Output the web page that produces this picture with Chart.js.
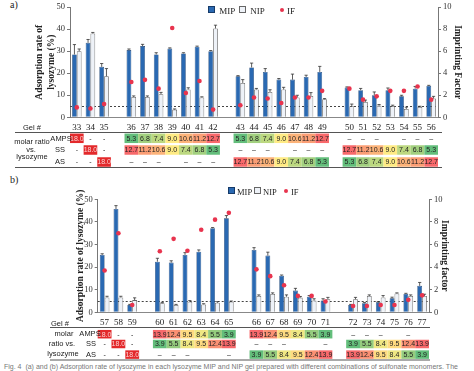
<!DOCTYPE html>
<html>
<head>
<meta charset="utf-8">
<script src="https://cdn.jsdelivr.net/npm/chart.js@4"></script>
<style>
  body { margin: 0; background: #fff; width: 474px; height: 371px; overflow: hidden; position: relative; font-family: "Liberation Serif", serif; }
  .wrap { position: absolute; left: 0; width: 474px; }
  .lbl { position: absolute; font-size: 10px; color: #222; }
  .leg { position: absolute; font-size: 9px; color: #222; white-space: nowrap; line-height: 10px; }
  .sq { display: inline-block; width: 5px; height: 5px; margin-right: 2px; vertical-align: 1px; }
  .mip { background: #2a69b2; border: 1px solid #163a68; }
  .nip { background: #eef2f8; border: 1px solid #666; }
  .dot { display: inline-block; width: 4px; height: 4px; border-radius: 50%; background: #e8344e; margin-right: 3px; vertical-align: 2px; }
  #cap { position: absolute; left: 4px; top: 363px; font: 7px "Liberation Sans", sans-serif; color: #777; white-space: nowrap; }
</style>
</head>
<body>
<div class="lbl" style="left:10px;top:-1px">a)</div>
<div class="wrap" style="top:0;height:172px"><canvas id="chartA" width="474" height="172"></canvas></div>
<div class="leg" style="left:208px;top:6px"><span class="sq mip"></span>&nbsp;MIP</div>
<div class="leg" style="left:239px;top:6px"><span class="sq nip"></span>&nbsp;NIP</div>
<div class="leg" style="left:280px;top:6px"><span class="dot"></span>IF</div>

<div class="lbl" style="left:10px;top:174px">b)</div>
<div class="wrap" style="top:172px;height:190px"><canvas id="chartB" width="474" height="190"></canvas></div>
<div class="leg" style="left:228px;top:187px;font-size:8.5px"><span class="sq mip"></span>MIP</div>
<div class="leg" style="left:254px;top:187px;font-size:8.5px"><span class="sq nip"></span>NIP</div>
<div class="leg" style="left:284px;top:187px;font-size:8.5px"><span class="dot"></span>IF</div>

<div id="cap">Fig. 4&nbsp;&nbsp;(a) and (b) Adsorption rate of lysozyme in each lysozyme MIP and NIP gel prepared with different combinations of sulfonate monomers. The</div>

<script>
// ---- panel a data ----
const GEL_A = ['33','34','35','','36','37','38','39','40','41','42','','43','44','45','46','47','48','49','','50','51','52','53','54','55','56'];
const MIP_A = [28.5,33.8,22.9,null,30.5,32.3,28.5,31.2,29.0,32.0,30.0,null,18.6,22.6,20.6,17.1,17.1,18.3,20.6,null,13.5,12.3,10.0,12.3,9.5,13.0,14.2];
const NIP_A = [30.0,38.0,18.6,null,9.2,9.2,10.5,3.5,12.6,9.0,40.3,null,15.6,12.6,11.5,12.6,9.0,9.7,8.2,null,5.0,7.0,5.3,5.0,3.8,4.7,8.5];
const IF_A  = [0.9,0.8,1.2,null,3.2,3.4,2.6,8.1,2.2,3.3,0.7,null,1.1,1.8,1.7,1.3,1.8,1.8,2.4,null,2.6,1.6,1.9,2.4,2.4,2.8,1.6];
const MIP_ERR_A = [4.5,1.5,1.5,null,0.5,0.8,0.8,0.3,0.3,0.3,0.3,null,0.3,2.0,1.5,0.5,2.5,0.8,2.5,null,0.3,0.8,1.5,1.0,0.5,1.0,0.3];
const NIP_ERR_A = [1.0,0.5,3.5,null,0.5,0.5,0.8,0.3,0.8,0.3,1.5,null,1.5,0.5,1.0,1.0,1.0,1.5,0.3,null,1.0,0.8,0.5,0.5,0.8,0.3,1.0];
const AMPS_A = ['18.0','-','-',null,'5.3','6.8','7.4','9.0','10.6','11.2','12.7',null,'5.3','6.8','7.4','9.0','10.6','11.2','12.7',null,'–','–','–','','–','–','–'];
const SS_A   = ['-','18.0','-',null,'12.7','11.2','10.6','9.0','7.4','6.8','5.3',null,'–','–','–','','–','–','–',null,'12.7','11.2','10.6','9.0','7.4','6.8','5.3'];
const AS_A   = ['-','-','18.0',null,'–','–','–','','–','–','–',null,'12.7','11.2','10.6','9.0','7.4','6.8','5.3',null,'5.3','6.8','7.4','9.0','10.6','11.2','12.7'];

// ---- panel b data ----
const GEL_B = ['57','58','59','','60','61','62','63','64','65','','66','67','68','69','70','71','','72','73','74','75','76','77'];
const MIP_B = [25.4,45.7,3.2,null,22.4,22.0,25.4,26.8,37.2,41.6,null,27.6,25.1,16.2,9.6,6.9,5.2,null,3.2,4.0,4.4,6.2,8.1,11.7];
const NIP_B = [6.6,6.6,5.4,null,4.0,3.2,4.7,3.5,4.2,4.7,null,7.2,8.1,6.9,6.5,5.2,5.8,null,5.8,7.2,6.6,8.3,7.2,7.2];
const IF_B  = [3.7,7.0,0.65,null,5.4,6.5,5.45,7.3,8.2,8.8,null,3.8,3.2,2.4,1.45,1.45,0.95,null,0.56,0.56,0.65,0.65,1.1,1.5];
const MIP_ERR_B = [0.5,1.5,0.3,null,1.5,0.8,1.0,0.8,0.3,1.2,null,1.0,1.5,0.3,1.0,0.5,0.8,null,0.3,0.3,0.3,0.5,0.3,1.5];
const NIP_ERR_B = [0.5,0.5,1.0,null,0.3,0.3,0.5,0.3,0.5,0.3,null,0.5,0.5,0.8,0.5,0.8,0.8,null,0.8,0.5,0.8,0.3,0.5,0.8];
const AMPS_B = ['18.0','-','-',null,'13.9','12.4','9.5','8.4','5.5','3.9',null,'13.9','12.4','9.5','8.4','5.5','3.9',null,'–','–','–','','–',''];
const SS_B   = ['-','18.0','-',null,'3.9','5.5','8.4','9.5','12.4','13.9',null,'–','–','–','','','–',null,'3.9','5.5','8.4','9.5','12.4','13.9'];
const AS_B   = ['-','-','18.0',null,'–','–','–','','','–',null,'3.9','5.5','8.4','9.5','12.4','13.9',null,'13.9','12.4','9.5','8.4','5.5','3.9'];

const Y_TICKS = { min: 0, max: 50, step: 5 };
const IF_TICKS = { min: 0, max: 10, step: 2 };

const SERIF = '"Liberation Serif", serif';
const SANS = '"Liberation Sans", sans-serif';
Chart.defaults.font.family = SERIF;

// excel-like red / yellow / green scale
function heat(v, lo, hi) {
  if (v >= 15) return '#e3292b';
  const g = [99,190,123], y = [255,235,132], r = [248,105,107];
  const mid = (lo + hi) / 2;
  let a, b, t;
  if (v <= mid) { a = g; b = y; t = (v - lo) / (mid - lo); }
  else { a = y; b = r; t = (v - mid) / (hi - mid); }
  t = Math.max(0, Math.min(1, t));
  const c = a.map((k, i) => Math.round(k + (b[i] - k) * t));
  return 'rgb(' + c.join(',') + ')';
}

// dotted IF = 1 reference line
const refLine = {
  id: 'refLine',
  beforeDatasetsDraw(chart) {
    const { ctx, chartArea: a } = chart;
    const y = chart.scales.y1.getPixelForValue(1);
    ctx.save();
    ctx.strokeStyle = '#444';
    ctx.lineWidth = 1;
    ctx.setLineDash([2, 2]);
    ctx.beginPath();
    ctx.moveTo(a.left, Math.round(y) + 0.5);
    ctx.lineTo(a.right, Math.round(y) + 0.5);
    ctx.stroke();
    ctx.restore();
  }
};

function errBars(errs) {
  return {
    id: 'errBars',
    afterDatasetDraw(chart, args) {
      const e = errs[args.index];
      if (!e) return;
      const ctx = chart.ctx, ys = chart.scales.y;
      const vals = chart.data.datasets[args.index].data;
      ctx.save();
      ctx.strokeStyle = '#333';
      ctx.lineWidth = 0.8;
      args.meta.data.forEach((bar, i) => {
        if (vals[i] == null || !e[i]) return;
        const top = ys.getPixelForValue(vals[i] + e[i]);
        ctx.beginPath();
        ctx.moveTo(bar.x, bar.y);
        ctx.lineTo(bar.x, top);
        ctx.moveTo(bar.x - 1.6, top);
        ctx.lineTo(bar.x + 1.6, top);
        ctx.stroke();
      });
      ctx.restore();
    }
  };
}

function tablePlugin(p) {
  return {
    id: 'gelTable',
    afterDraw(chart) {
      const ctx = chart.ctx, xs = chart.scales.x;
      const slot = xs.width / p.gel.length;
      const t = p.tab;
      ctx.save();
      ctx.strokeStyle = '#555';
      ctx.lineWidth = 1;
      [t.lineTop, t.lineBot].forEach(y => {
        ctx.beginPath();
        ctx.moveTo(t.x0, y + 0.5);
        ctx.lineTo(t.x1, y + 0.5);
        ctx.stroke();
      });
      ctx.font = '7px ' + SANS;
      ctx.textAlign = 'center';
      ctx.textBaseline = 'middle';
      p.rows.forEach((row, r) => {
        const yc = t.rowY[r];
        row.forEach((v, i) => {
          if (v == null || v === '') return;
          const cx = xs.getPixelForValue(i);
          const n = parseFloat(v);
          let txt = '#222';
          if (!isNaN(n)) {
            ctx.fillStyle = heat(n, p.lo, p.hi);
            ctx.fillRect(cx - slot / 2, yc - t.cellH / 2, slot, t.cellH);
            if (n >= 15) txt = '#fbd2d2';
          }
          ctx.fillStyle = txt;
          ctx.fillText(v, cx, yc + 0.5);
        });
      });
      ctx.font = '7.5px ' + SANS;
      t.labels.forEach(l => {
        ctx.fillStyle = '#222';
        ctx.fillText(l.t, l.x, l.y);
      });
      ctx.restore();
    }
  };
}

function makePanel(id, p) {
  const tickFont = { family: SERIF, size: 8.5 };
  const titleFont = { family: SERIF, size: 9.5, weight: 'bold' };
  return new Chart(document.getElementById(id).getContext('2d'), {
    type: 'bar',
    data: {
      labels: p.gel,
      datasets: [
        { label: 'MIP', data: p.mip, yAxisID: 'y', backgroundColor: '#2a69b2', borderColor: '#163a68',
          borderWidth: 0.6, categoryPercentage: 0.7, barPercentage: 1, order: 1 },
        { label: 'NIP', data: p.nip, yAxisID: 'y', backgroundColor: '#eef2f8', borderColor: '#666',
          borderWidth: 0.8, categoryPercentage: 0.7, barPercentage: 1, order: 2 },
        { type: 'line', label: 'IF', data: p.imf, yAxisID: 'y1', showLine: false, pointRadius: 2.3,
          pointBackgroundColor: '#e8344e', pointBorderWidth: 0, order: 0 }
      ]
    },
    options: {
      responsive: false,
      animation: false,
      layout: { padding: { left: 0, right: 0, top: p.top, bottom: 0 } },
      plugins: { legend: { display: false }, tooltip: { enabled: false } },
      scales: {
        x: {
          grid: { display: false, drawTicks: false, tickLength: 0 },
          border: { color: '#888' },
          ticks: { font: { family: SERIF, size: 9 }, color: '#222', padding: p.xPad, autoSkip: false, maxRotation: 0 },
          afterFit: s => { s.height = p.xH; }
        },
        y: {
          position: 'left', min: Y_TICKS.min, max: Y_TICKS.max,
          ticks: { stepSize: Y_TICKS.step, font: tickFont, color: '#333', padding: 2 },
          grid: { drawOnChartArea: false, tickLength: 3, color: '#777' },
          border: { color: '#777' },
          title: { display: true, text: p.yTitle, font: titleFont, color: '#222', padding: { top: p.yTitlePad, bottom: 0 } },
          afterFit: s => { s.width = p.yW; }
        },
        y1: {
          position: 'right', min: IF_TICKS.min, max: IF_TICKS.max,
          ticks: { stepSize: IF_TICKS.step, font: tickFont, color: '#333', padding: 2 },
          grid: { drawOnChartArea: false, tickLength: 3, color: '#777' },
          border: { color: '#777' },
          title: { display: true, text: p.y1Title, font: titleFont, color: '#222', padding: { top: p.y1TitlePad, bottom: 0 } },
          afterFit: s => { s.width = p.y1W; }
        }
      }
    },
    plugins: [refLine, errBars([p.mipErr, p.nipErr]), tablePlugin(p)]
  });
}

makePanel('chartA', {
  gel: GEL_A, mip: MIP_A, nip: NIP_A, imf: IF_A, mipErr: MIP_ERR_A, nipErr: NIP_ERR_A,
  rows: [AMPS_A, SS_A, AS_A], lo: 5.3, hi: 12.7,
  top: 7, xH: 54.7, xPad: 5, yW: 70, y1W: 36,
  yTitle: ['Adsorption rate of', 'lysozyme (%)'], yTitlePad: 34,
  y1Title: 'Imprinting Factor', y1TitlePad: 11,
  tab: {
    lineTop: 132, lineBot: 167, x0: 15, x1: 442, rowY: [138.3, 150, 162], cellH: 9.5,
    labels: [
      { t: 'Gel #', x: 32, y: 127.5 }, { t: 'molar ratio', x: 32, y: 142 }, { t: 'vs.', x: 31, y: 150 },
      { t: 'lysozyme', x: 32, y: 157 }, { t: 'AMPS', x: 61, y: 138.5 }, { t: 'SS', x: 60, y: 150 }, { t: 'AS', x: 60, y: 162 }
    ]
  }
});

makePanel('chartB', {
  gel: GEL_B, mip: MIP_B, nip: NIP_B, imf: IF_B, mipErr: MIP_ERR_B, nipErr: NIP_ERR_B,
  rows: [AMPS_B, SS_B, AS_B], lo: 3.9, hi: 13.9,
  top: 27.3, xH: 49.7, xPad: 5, yW: 97.7, y1W: 45,
  yTitle: 'Adsorption rate of lysozyme (%)', yTitlePad: 75,
  y1Title: 'Imprinting factor', y1TitlePad: 24,
  tab: {
    lineTop: 155, lineBot: 187.5, x0: 50, x1: 430, rowY: [162.2, 172, 182.6], cellH: 8.5,
    labels: [
      { t: 'Gel #', x: 60, y: 152 }, { t: 'molar', x: 64, y: 162 }, { t: 'ratio vs.', x: 62, y: 172 },
      { t: 'lysozyme', x: 63, y: 182 }, { t: 'AMPS', x: 90, y: 162.2 }, { t: 'SS', x: 91, y: 172 }, { t: 'AS', x: 91, y: 182.6 }
    ]
  }
});
</script>
</body>
</html>
